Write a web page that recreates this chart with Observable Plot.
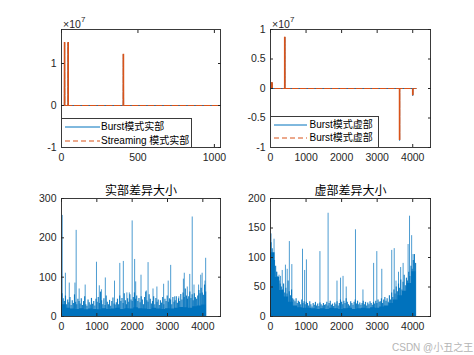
<!DOCTYPE html>
<html><head><meta charset="utf-8">
<script src="https://cdn.jsdelivr.net/npm/d3@7"></script>
<script src="https://cdn.jsdelivr.net/npm/@observablehq/plot@0.6"></script>
<style>
body{margin:0;background:#fff;}
#fig{position:relative;width:474px;height:355px;overflow:hidden;background:#fff;font-family:"Liberation Sans","Noto Sans CJK SC",sans-serif;color:#262626;}
.panel{position:absolute;}
.legend{position:absolute;background:#fff;border:1px solid #3a3a3a;box-sizing:border-box;font-size:10px;color:#000;}
.legend .row{position:absolute;left:0;right:0;height:12px;}
.legend svg{position:absolute;left:0;top:0;}
.legend span{position:absolute;top:-1px;white-space:nowrap;line-height:13px;}
#wm{position:absolute;left:392px;top:339px;font-size:10px;color:#b4b4b4;white-space:nowrap;}
</style></head>
<body><div id="fig"></div>
<script>
// ---------- data ----------
const N = 4096;
// top-left: real part (values in raw units), spikes at sample index
const realSpikeIdx = [20, 44, 405];
const realSpikeVal = [1.5e7, 1.5e7, 1.22e7];
// top-right: imag part
const imagSpikeIdx = [40, 400, 3630, 4000];
const imagSpikeVal = [0.1e7, 0.87e7, -0.88e7, -0.12e7];

// bottom-left: |real difference| – tall spikes
const realDiffSpikeX = [20,110,220,380,415,500,670,990,1070,1130,1240,1500,1650,1750,1850,1920,2000,2070,2100,2250,2400,2450,2590,2700,2890,3020,3090,3200,3320,3450,3475,3560,3630,3700,3750,3880,3940,3980,4060,4080];
const realDiffSpikeY = [257,110,85,85,219,70,80,138,78,68,98,90,135,140,60,60,243,145,88,105,65,137,70,75,82,90,130,50,50,95,110,75,107,253,80,80,105,110,90,148];
// bottom-left: background noise, per 32-sample bin
const realNoise = [58,45,38,52,30,42,35,48,28,40,33,55,36,30,44,38,
 32,45,28,38,50,30,26,42,35,29,46,31,38,27,44,36,
 48,33,62,40,30,45,28,52,36,30,41,26,38,47,32,29,
 35,44,30,52,38,46,33,58,40,30,45,36,55,42,38,48,
 60,44,52,38,46,35,50,42,30,48,62,40,36,55,44,32,
 38,50,30,46,36,42,28,40,34,48,30,44,38,52,36,45,
 42,30,48,36,40,50,34,45,38,56,42,60,48,70,52,44,
 50,62,46,55,40,58,48,44,52,66,58,72,60,54,80,62];
// bottom-left: dense floor, per 128-sample bin
const realBase = [30,21,19,18,20,17,19,18,17,20,18,19,21,18,20,19,22,20,19,18,21,19,18,20,19,21,23,22,21,25,27,29];

// bottom-right: |imag difference| – tall spikes
const imagDiffSpikeX = [15,100,170,240,280,330,420,470,530,600,900,960,1010,1390,1620,1870,1970,2040,2130,2390,2600,2900,2990,3130,3410,3480,3530,3600,3660,3730,3830,3870,3910,3970,4010];
const imagDiffSpikeY = [140,131,75,70,68,78,87,80,127,88,114,78,96,110,175,60,65,68,50,147,45,90,110,80,112,115,60,75,83,90,50,122,170,137,105];
// bottom-right: background noise, per 32-sample bin
const imagNoise = [125,115,105,95,85,75,68,60,55,50,
 45,55,40,48,38,60,42,35,45,30,
 28,25,30,22,26,24,20,28,22,25,20,24,
 22,18,25,20,16,22,19,24,18,21,17,23,20,18,22,19,
 20,24,18,22,26,19,21,17,23,20,25,18,22,28,24,20,
 26,22,30,24,20,18,25,22,19,24,28,21,26,20,23,19,
 22,26,20,24,18,23,20,25,22,19,24,21,26,22,28,24,
 25,30,22,28,32,26,30,24,35,28,40,32,45,38,50,42,
 55,48,62,45,58,70,52,65,60,75,68,85,80,95,105,90];
// bottom-right: dense floor, per 128-sample bin
const imagBase = [108,66,44,33,24,18,15,14,14,13,12,13,12,14,13,12,13,14,12,13,14,13,15,14,16,18,22,28,35,43,56,76];

// ticks
const tlXTicks = [0,500,1000], tlYTicks = [-1e7,0,1e7];
const trXTicks = [0,1000,2000,3000,4000], trYTicks = [-1e7,-0.5e7,0,0.5e7,1e7];
const bXTicks = [0,1000,2000,3000,4000];
const blYTicks = [0,100,200,300], brYTicks = [0,50,100,150,200];

const BLUE = "#0072BD", RED = "#D95319", AX = "#262626";
const FONT = '"Liberation Sans","Noto Sans CJK SC",sans-serif';

// ---------- helpers ----------
function spikeLine(idx, val) {
  const pts = [{x:0, y:0}];
  idx.forEach((x, i) => pts.push({x:x-1, y:0}, {x, y:val[i]}, {x:x+1, y:0}));
  pts.push({x:N-1, y:0});
  return pts;
}
function spikeRules(idx, val) {
  return Plot.ruleX(idx.map((x, i) => ({x, y: val[i]})), {x:"x", y1:0, y2:"y", stroke:RED, strokeWidth:1.6, clip:true});
}
function axes(xt, yt, yfmt) {
  return [
    Plot.frame({stroke: AX, strokeWidth: 0.9}),
    Plot.axisX(xt, {anchor:"bottom", tickSize:0, tickPadding:6, tickFormat: d => String(d), label:null, fill:AX, fontSize:10.5}),
    Plot.axisX(xt, {anchor:"bottom", tickSize:-3, fill:"none", label:null, stroke:AX}),
    Plot.axisX(xt, {anchor:"top", tickSize:-3, fill:"none", label:null, stroke:AX}),
    Plot.axisY(yt, {anchor:"left", tickSize:0, tickPadding:5, tickFormat: yfmt, label:null, fill:AX, fontSize:10.5}),
    Plot.axisY(yt, {anchor:"left", tickSize:-3, fill:"none", label:null, stroke:AX}),
    Plot.axisY(yt, {anchor:"right", tickSize:-3, fill:"none", label:null, stroke:AX})
  ];
}
function panel(left, top, w, h, m, xd, yd, marks) {
  const svg = Plot.plot({
    width:w, height:h, marginLeft:m[0], marginRight:m[1], marginTop:m[2], marginBottom:m[3],
    x:{domain:xd}, y:{domain:yd},
    style:{fontFamily:FONT, fontSize:"10.5px", color:AX, background:"transparent", overflow:"visible"},
    marks
  });
  svg.classList.add("panel");
  svg.style.left = left + "px"; svg.style.top = top + "px";
  document.getElementById("fig").appendChild(svg);
}
function exponent() {
  return [
    Plot.text(["×10"], {frameAnchor:"top-left", textAnchor:"start", lineAnchor:"bottom", dx:1.5, dy:-2, fontSize:10.5, fill:AX}),
    Plot.text(["7"], {frameAnchor:"top-left", textAnchor:"start", lineAnchor:"bottom", dx:19.5, dy:-8, fontSize:8, fill:AX})
  ];
}
function title(t) {
  return Plot.text([t], {frameAnchor:"top", lineAnchor:"bottom", dy:-4, fontSize:12, fill:"#000"});
}
const fmt = d => String(d);
const fmt7 = d => String(d / 1e7);

// ---------- top-left ----------
const tlLine = spikeLine(realSpikeIdx, realSpikeVal);
panel(0, 0, 237, 175, [61,17,29,28], [0,1040], [-1e7,1.81e7], [
  Plot.line(tlLine, {x:"x", y:"y", stroke:BLUE, strokeWidth:1, clip:true}),
  Plot.line(tlLine, {x:"x", y:"y", stroke:RED, strokeWidth:1, strokeDasharray:"6,2", clip:true}),
  spikeRules(realSpikeIdx, realSpikeVal),
  ...exponent(),
  ...axes(tlXTicks, tlYTicks, fmt7)
]);

// ---------- top-right ----------
const trLine = spikeLine(imagSpikeIdx, imagSpikeVal);
panel(237, 0, 237, 175, [33,44,29,28], [0,4500], [-1e7,1e7], [
  Plot.line(trLine, {x:"x", y:"y", stroke:BLUE, strokeWidth:1, clip:true}),
  Plot.line(trLine, {x:"x", y:"y", stroke:RED, strokeWidth:1, strokeDasharray:"6,2", clip:true}),
  spikeRules(imagSpikeIdx, imagSpikeVal),
  ...exponent(),
  ...axes(trXTicks, trYTicks, fmt7)
]);

// ---------- bottom panels ----------
function diffMarks(noise, base, sx, sy) {
  const baseData = base.map((v, i) => ({x: i*128, y: v}));
  baseData.push({x: N, y: base[base.length-1]});
  return [
    Plot.ruleX(noise.map((v, i) => ({x: i*32 + 16, y: v})), {x:"x", y1:0, y2:"y", stroke:BLUE, strokeWidth:1.15, strokeOpacity:0.9}),
    Plot.ruleX(sx.map((x, i) => ({x, y: sy[i]})), {x:"x", y1:0, y2:"y", stroke:BLUE, strokeWidth:1, strokeOpacity:0.7}),
    Plot.areaY(baseData, {x:"x", y:"y", fill:BLUE, curve:"step-after"})
  ];
}
panel(0, 175, 237, 180, [61,17,23,39], [0,4500], [0,300], [
  ...diffMarks(realNoise, realBase, realDiffSpikeX, realDiffSpikeY),
  title("实部差异大小"),
  ...axes(bXTicks, blYTicks, fmt)
]);
panel(237, 175, 237, 180, [33,44,23,39], [0,4500], [0,200], [
  ...diffMarks(imagNoise, imagBase, imagDiffSpikeX, imagDiffSpikeY),
  title("虚部差异大小"),
  ...axes(bXTicks, brYTicks, fmt)
]);

// ---------- legends ----------
function legend(left, top, w, h, rows) {
  const fig = document.getElementById("fig");
  const box = document.createElement("div");
  box.className = "legend";
  Object.assign(box.style, {left:left+"px", top:top+"px", width:w+"px", height:h+"px"});
  rows.forEach(r => {
    const row = document.createElement("div");
    row.className = "row";
    row.style.top = (r.cy - 7) + "px";
    row.innerHTML = `<svg width="${r.x1+2}" height="12"><line x1="${r.x0}" x2="${r.x1}" y1="6" y2="6" stroke="${r.color}" stroke-width="1" ${r.dash ? 'stroke-dasharray="5,3"' : ''}/></svg><span style="left:${r.tx}px">${r.text}</span>`;
    box.appendChild(row);
  });
  fig.appendChild(box);
}
legend(61, 118, 131, 30, [
  {cy:9, x0:3, x1:38, tx:39, color:BLUE, dash:false, text:"Burst模式实部"},
  {cy:23, x0:3, x1:38, tx:39, color:RED, dash:true, text:"Streaming 模式实部"}
]);
legend(270, 116, 109, 32, [
  {cy:8.5, x0:3, x1:36, tx:38.5, color:BLUE, dash:false, text:"Burst模式虚部"},
  {cy:22, x0:3, x1:36, tx:38.5, color:RED, dash:true, text:"Burst模式虚部"}
]);
const wm = document.createElement("div");
wm.id = "wm"; wm.textContent = "CSDN @小丑之王";
document.getElementById("fig").appendChild(wm);
</script>
</body></html>
